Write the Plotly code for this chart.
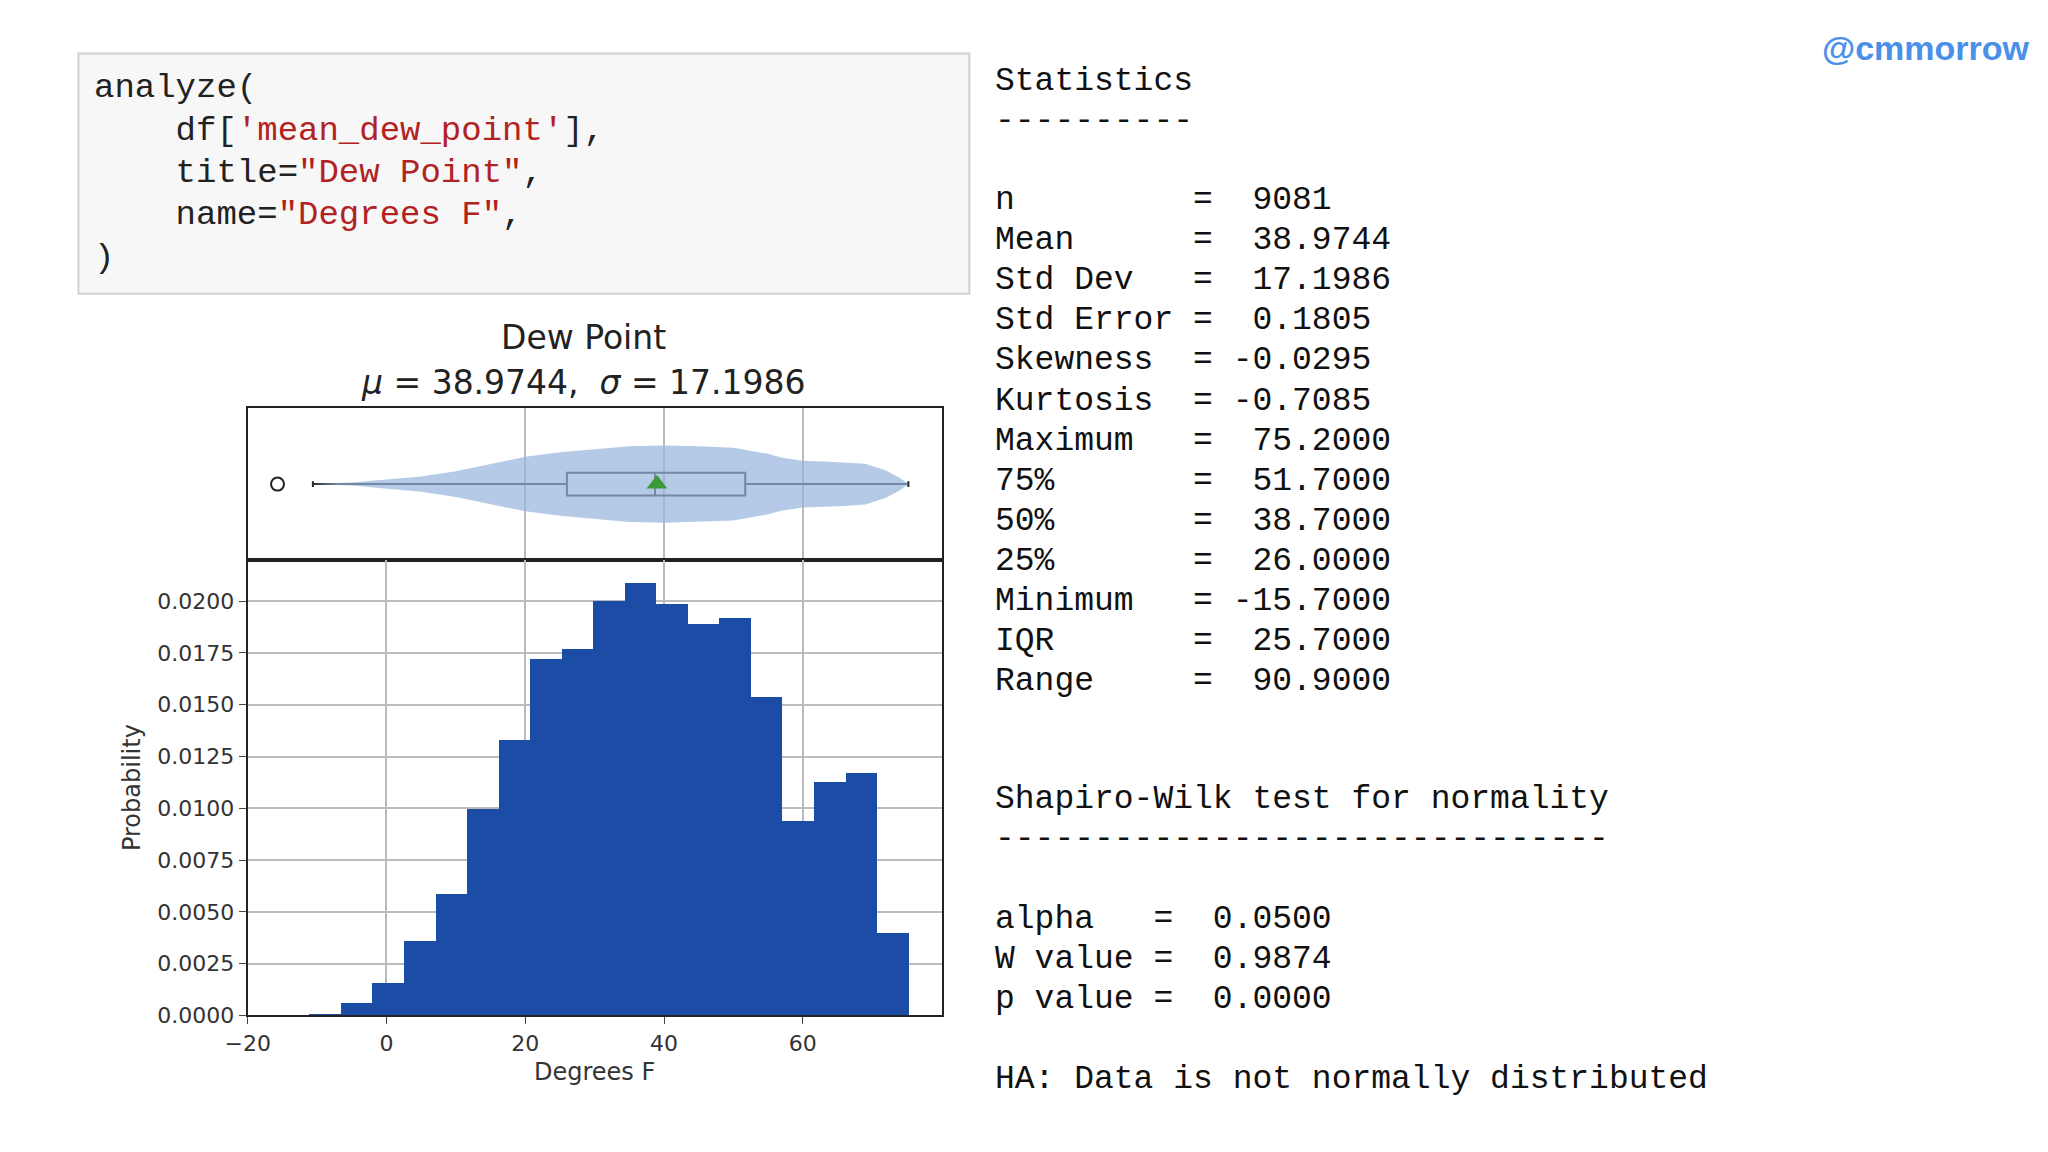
import plotly.graph_objects as go
from plotly.subplots import make_subplots

# ---- data ----
bin_start = -15.7
bin_width = 4.545
hist_heights = [0.00003, 0.0001, 0.0006, 0.0016, 0.0036, 0.0059, 0.0100, 0.0133, 0.0172, 0.0177,
                0.0200, 0.0209, 0.0199, 0.0189, 0.0192, 0.0154, 0.0094, 0.0113, 0.0117, 0.0040]
violin_x = [-11, -5, 0, 5, 10, 15, 20, 25, 30, 35, 40, 45, 50, 55, 57, 60, 63, 66, 69, 72, 74, 75.2]
violin_hw = [0.0, 0.02, 0.06, 0.10, 0.17, 0.27, 0.36, 0.42, 0.46, 0.50, 0.51, 0.50, 0.48, 0.40, 0.35, 0.31, 0.30, 0.29, 0.27, 0.18, 0.08, 0.0]
q1, median, q3 = 26.0, 38.7, 51.7
whisker_lo, whisker_hi = -10.6, 75.2
outliers = [-15.7]
mean_val = 38.9744

code_lines = [
    'analyze(',
    '&nbsp;&nbsp;&nbsp;&nbsp;df[<span style="color:#b22222">\'mean_dew_point\'</span>],',
    '&nbsp;&nbsp;&nbsp;&nbsp;title=<span style="color:#b22222">"Dew Point"</span>,',
    '&nbsp;&nbsp;&nbsp;&nbsp;name=<span style="color:#b22222">"Degrees F"</span>,',
    ')',
]
stats_labels = ["n", "Mean", "Std Dev", "Std Error", "Skewness", "Kurtosis", "Maximum", "75%", "50%", "25%",
                "Minimum", "IQR", "Range"]
stats_values = [" 9081", " 38.9744", " 17.1986", " 0.1805", "-0.0295", "-0.7085", " 75.2000", " 51.7000",
                " 38.7000", " 26.0000", "-15.7000", " 25.7000", " 90.9000"]
sw_labels = ["alpha", "W value", "p value"]
sw_values = [" 0.0500", " 0.9874", " 0.0000"]

fig = make_subplots(rows=2, cols=1, shared_xaxes=True, vertical_spacing=0)

# violin shape
vx = violin_x + violin_x[::-1]
vy = violin_hw + [-h for h in violin_hw[::-1]]
fig.add_trace(go.Scatter(x=vx, y=vy, fill="toself", fillcolor="rgba(150,180,220,0.7)", mode="lines",
                         line=dict(width=0), hoverinfo="skip"), row=1, col=1)
fig.add_trace(go.Box(y=[0], q1=[q1], median=[median], q3=[q3], lowerfence=[whisker_lo], upperfence=[whisker_hi],
                     orientation="h", width=0.3, whiskerwidth=0.25, fillcolor="rgba(0,0,0,0)",
                     line=dict(color="#222", width=2)), row=1, col=1)
fig.add_trace(go.Scatter(x=outliers, y=[0] * len(outliers), mode="markers",
                         marker=dict(symbol="circle-open", size=13, color="#222", line=dict(width=2))), row=1, col=1)
fig.add_trace(go.Scatter(x=[mean_val], y=[0], mode="markers",
                         marker=dict(symbol="triangle-up", size=18, color="#3a9a3a")), row=1, col=1)

centers = [bin_start + (i + 0.5) * bin_width for i in range(len(hist_heights))]
fig.add_trace(go.Bar(x=centers, y=hist_heights, width=bin_width, marker=dict(color="#1b4ca6", line=dict(width=0))),
              row=2, col=1)

tickfont = dict(family="DejaVu Sans", size=22, color="#333")
axcommon = dict(showline=True, linecolor="#222", linewidth=2, mirror=True, gridcolor="#bbbbbb", gridwidth=1.5)
fig.update_xaxes(range=[-20, 80], tickvals=[-20, 0, 20, 40, 60], ticktext=["\u221220", "0", "20", "40", "60"],
                 **axcommon, domain=[0.107, 0.4497])
fig.update_xaxes(showticklabels=False, row=1, col=1)
fig.update_xaxes(ticks="outside", ticklen=7, tickfont=tickfont,
                 title=dict(text="Degrees F", font=dict(family="DejaVu Sans", size=24, color="#333"), standoff=8),
                 row=2, col=1)
fig.update_yaxes(range=[-1, 1], showticklabels=False, showgrid=False, zeroline=False, row=1, col=1,
                 domain=[0.5156, 0.6484], **{k: v for k, v in axcommon.items() if k != "gridcolor" and k != "gridwidth"})
fig.update_yaxes(range=[0, 0.022], dtick=0.0025, tickformat=".4f", ticks="outside", ticklen=7, tickfont=tickfont,
                 title=dict(text="Probability", font=dict(family="DejaVu Sans", size=24, color="#333"), standoff=10),
                 zeroline=False, row=2, col=1, domain=[0.1155, 0.5156], **axcommon)

W, H = 2048, 1152
def px(x, y):
    return x / W, 1 - y / H

ann = []
# title
for txt, yy, sz in [("Dew Point", 333, 33), ("<i>μ</i> = 38.9744,  <i>σ</i> = 17.1986", 379, 33)]:
    x, y = px(559, yy)
    ann.append(dict(x=x, y=y, xref="paper", yref="paper", text=txt, showarrow=False, xanchor="center",
                    yanchor="middle", font=dict(family="DejaVu Sans", size=sz, color="#222")))
mono = "Liberation Mono"
code_y = [81, 124, 167, 209, 253]
for t, yy in zip(code_lines, code_y):
    x, y = px(62, yy)
    ann.append(dict(x=x, y=y, xref="paper", yref="paper", text=t, showarrow=False, xanchor="left",
                    yanchor="middle", font=dict(family=mono, size=34, color="#222")))

def line(text, yy):
    x, y = px(973, yy)
    ann.append(dict(x=x, y=y, xref="paper", yref="paper", text=text.replace(" ", "&nbsp;"), showarrow=False,
                    xanchor="left", yanchor="middle", font=dict(family=mono, size=33, color="#111")))

line("Statistics", 74)
line("-" * 10, 115)
for i, (l, v) in enumerate(zip(stats_labels, stats_values)):
    line(f"{l:<10}= {v}", 195 + i * 40.5)
line("Shapiro-Wilk test for normality", 801)
line("-" * 31, 841)
for i, (l, v) in enumerate(zip(sw_labels, sw_values)):
    line(f"{l:<8}= {v}", 922 + i * 40.5)
line("HA: Data is not normally distributed", 1084)

x, y = px(2024, 40)
ann.append(dict(x=x, y=y, xref="paper", yref="paper", text="<b>@cmmorrow</b>", showarrow=False, xanchor="right",
                yanchor="middle", font=dict(family="Liberation Sans", size=34, color="#4a8fe8")))

shapes = [dict(type="rect", xref="paper", yref="paper", x0=48 / W, x1=949 / W, y0=1 - 289 / H, y1=1 - 46 / H,
               fillcolor="#f7f7f7", line=dict(color="#d0d0d0", width=2), layer="below")]

fig.update_layout(width=W, height=H, margin=dict(l=0, r=0, t=0, b=0), showlegend=False,
                  plot_bgcolor="white", paper_bgcolor="white", annotations=ann, shapes=shapes, bargap=0)
fig.write_html("out.html")
